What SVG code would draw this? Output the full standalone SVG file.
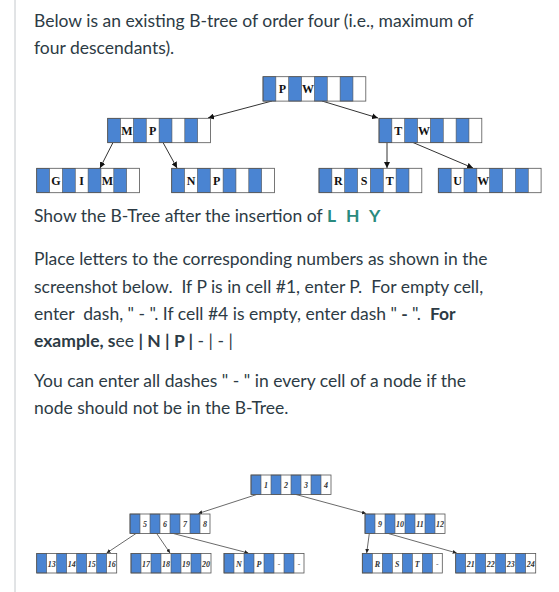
<svg xmlns="http://www.w3.org/2000/svg" xmlns:xlink="http://www.w3.org/1999/xlink" width="559" height="592" viewBox="0 0 559 592">
<style>
.t{font-family:Lato,"Liberation Sans",sans-serif;font-size:17.5px;fill:#2d3b45;white-space:pre}
.bd{font-weight:bold}
.hl{font-weight:bold;fill:#2a8a7e}
.b{fill:#4a84d2;stroke:#555;stroke-width:0.6}
.o{fill:none;stroke:#555;stroke-width:0.8}
.w{fill:#fff}
.tl{font-family:"Liberation Serif",serif;font-weight:bold;font-size:12px;fill:#111;text-anchor:middle}
.sl{font-family:"Liberation Serif",serif;font-style:italic;font-weight:bold;font-size:8px;fill:#333;text-anchor:middle}
.c{stroke:#333;stroke-width:1;fill:none}
.cs{stroke:#444;stroke-width:0.8;fill:none}
</style>
<defs>
<marker id="ah" markerUnits="userSpaceOnUse" markerWidth="6" markerHeight="6" refX="6" refY="3" orient="auto"><path d="M0,0 L6,3 L0,6 z" fill="#111"/></marker>
<marker id="as" markerUnits="userSpaceOnUse" markerWidth="4" markerHeight="4" refX="4" refY="2" orient="auto"><path d="M0,0 L4,2 L0,4 z" fill="#222"/></marker>
<g id="tn">
<rect class="w" x="0" y="0" width="102.8" height="24.4"/>
<rect class="b" x="0" y="0" width="12.85" height="24.4"/>
<rect class="b" x="25.7" y="0" width="12.85" height="24.4"/>
<rect class="b" x="51.4" y="0" width="12.85" height="24.4"/>
<rect class="b" x="77.1" y="0" width="12.85" height="24.4"/>
<rect class="o" x="0" y="0" width="102.8" height="24.4"/>
</g>
<g id="sn">
<rect class="w" x="0" y="0" width="80" height="19.5"/>
<rect class="b" x="0" y="0" width="10" height="19.5"/>
<rect class="b" x="20" y="0" width="10" height="19.5"/>
<rect class="b" x="40" y="0" width="10" height="19.5"/>
<rect class="b" x="60" y="0" width="10" height="19.5"/>
<rect class="o" x="0" y="0" width="80" height="19.5"/>
</g>
</defs>
<rect x="0" y="0" width="559" height="592" fill="#fff"/>
<line x1="15" y1="0" x2="15" y2="592" stroke="#c4c8cc" stroke-width="1"/>

<g id="text">
<text class="t" x="34" y="27">Below is an existing B-tree of order four (i.e., maximum of</text>
<text class="t" x="34" y="54">four descendants).</text>
<text class="t" x="34" y="222">Show the B-Tree after the insertion of <tspan class="hl" x="327">L</tspan><tspan class="hl" x="346">H</tspan><tspan class="hl" x="369">Y</tspan></text>
<text class="t" x="34" y="265">Place letters to the corresponding numbers as shown in the</text>
<text class="t" x="34" y="293">screenshot below.  If P is in cell #1, enter P.  For empty cell,</text>
<text class="t" x="34" y="320">enter  dash, " - ". If cell #4 is empty, enter dash "<tspan class="bd"> - </tspan>".  <tspan class="bd">For</tspan></text>
<text class="t" x="34" y="347"><tspan class="bd">example, s</tspan>ee <tspan class="bd">| N | P |</tspan> - | - |</text>
<text class="t" x="34" y="387">You can enter all dashes " - " in every cell of a node if the</text>
<text class="t" x="34" y="414">node should not be in the B-Tree.</text>
</g>

<g id="connectors">
<line class="c" x1="272" y1="101" x2="208" y2="118" marker-end="url(#ah)"/>
<line class="c" x1="322" y1="101" x2="378" y2="118" marker-end="url(#ah)"/>
<line class="c" x1="113" y1="142.5" x2="100" y2="168" marker-end="url(#ah)"/>
<line class="c" x1="163" y1="142.5" x2="177" y2="168" marker-end="url(#ah)"/>
<line class="c" x1="387" y1="142.5" x2="387" y2="168" marker-end="url(#ah)"/>
<line class="c" x1="413" y1="142.5" x2="473" y2="168" marker-end="url(#ah)"/>
<line class="cs" x1="256.7" y1="494.5" x2="198.3" y2="513.5" marker-end="url(#as)"/>
<line class="cs" x1="296" y1="494.5" x2="366" y2="513.5" marker-end="url(#as)"/>
<line class="cs" x1="136" y1="533.5" x2="106.7" y2="553" marker-end="url(#as)"/>
<line class="cs" x1="156.7" y1="533.5" x2="170" y2="553" marker-end="url(#as)"/>
<line class="cs" x1="173.3" y1="533.5" x2="248.3" y2="553" marker-end="url(#as)"/>
<line class="cs" x1="369.3" y1="533.5" x2="366.7" y2="553" marker-end="url(#as)"/>
<line class="cs" x1="388.3" y1="533.5" x2="456.7" y2="553" marker-end="url(#as)"/>
</g>

<g id="n-root" transform="translate(263,76.7)"><use xlink:href="#tn"/><text class="tl" x="19.3" y="16.5">P</text><text class="tl" x="45" y="16.5">W</text></g>
<g id="n-mp" transform="translate(107.7,118.3)"><use xlink:href="#tn"/><text class="tl" x="19.3" y="16.5">M</text><text class="tl" x="45" y="16.5">P</text></g>
<g id="n-tw" transform="translate(379,118.3)"><use xlink:href="#tn"/><text class="tl" x="19.3" y="16.5">T</text><text class="tl" x="45" y="16.5">W</text></g>
<g id="n-gim" transform="translate(36.7,168.3)"><use xlink:href="#tn"/><text class="tl" x="19.3" y="16.5">G</text><text class="tl" x="45" y="16.5">I</text><text class="tl" x="70.7" y="16.5">M</text></g>
<g id="n-np" transform="translate(171.7,168.3)"><use xlink:href="#tn"/><text class="tl" x="19.3" y="16.5">N</text><text class="tl" x="45" y="16.5">P</text></g>
<g id="n-rst" transform="translate(319,168.3)"><use xlink:href="#tn"/><text class="tl" x="19.3" y="16.5">R</text><text class="tl" x="45" y="16.5">S</text><text class="tl" x="70.7" y="16.5">T</text></g>
<g id="n-uw" transform="translate(438.3,168.3)"><use xlink:href="#tn"/><text class="tl" x="19.3" y="16.5">U</text><text class="tl" x="45" y="16.5">W</text></g>

<g id="s-root" transform="translate(251,475)"><use xlink:href="#sn"/><text class="sl" x="15" y="13">1</text><text class="sl" x="35" y="13">2</text><text class="sl" x="55" y="13">3</text><text class="sl" x="75" y="13">4</text></g>
<g id="s-5" transform="translate(130,514)"><use xlink:href="#sn"/><text class="sl" x="15" y="13">5</text><text class="sl" x="35" y="13">6</text><text class="sl" x="55" y="13">7</text><text class="sl" x="75" y="13">8</text></g>
<g id="s-9" transform="translate(365,514)"><use xlink:href="#sn"/><text class="sl" x="15" y="13">9</text><text class="sl" x="35" y="13">10</text><text class="sl" x="55" y="13">11</text><text class="sl" x="75" y="13">12</text></g>
<g id="s-13" transform="translate(36.7,553.5)"><use xlink:href="#sn"/><text class="sl" x="15" y="13">13</text><text class="sl" x="35" y="13">14</text><text class="sl" x="55" y="13">15</text><text class="sl" x="75" y="13">16</text></g>
<g id="s-17" transform="translate(131,553.5)"><use xlink:href="#sn"/><text class="sl" x="15" y="13">17</text><text class="sl" x="35" y="13">18</text><text class="sl" x="55" y="13">19</text><text class="sl" x="75" y="13">20</text></g>
<g id="s-np" transform="translate(224,553.5)"><use xlink:href="#sn"/><text class="sl" x="15" y="13">N</text><text class="sl" x="35" y="13">P</text><text class="sl" x="55" y="13">-</text><text class="sl" x="75" y="13">-</text></g>
<g id="s-rst" transform="translate(362.3,553.5)"><use xlink:href="#sn"/><text class="sl" x="15" y="13">R</text><text class="sl" x="35" y="13">S</text><text class="sl" x="55" y="13">T</text><text class="sl" x="75" y="13">-</text></g>
<g id="s-21" transform="translate(455.7,553.5)"><use xlink:href="#sn"/><text class="sl" x="15" y="13">21</text><text class="sl" x="35" y="13">22</text><text class="sl" x="55" y="13">23</text><text class="sl" x="75" y="13">24</text></g>
</svg>
